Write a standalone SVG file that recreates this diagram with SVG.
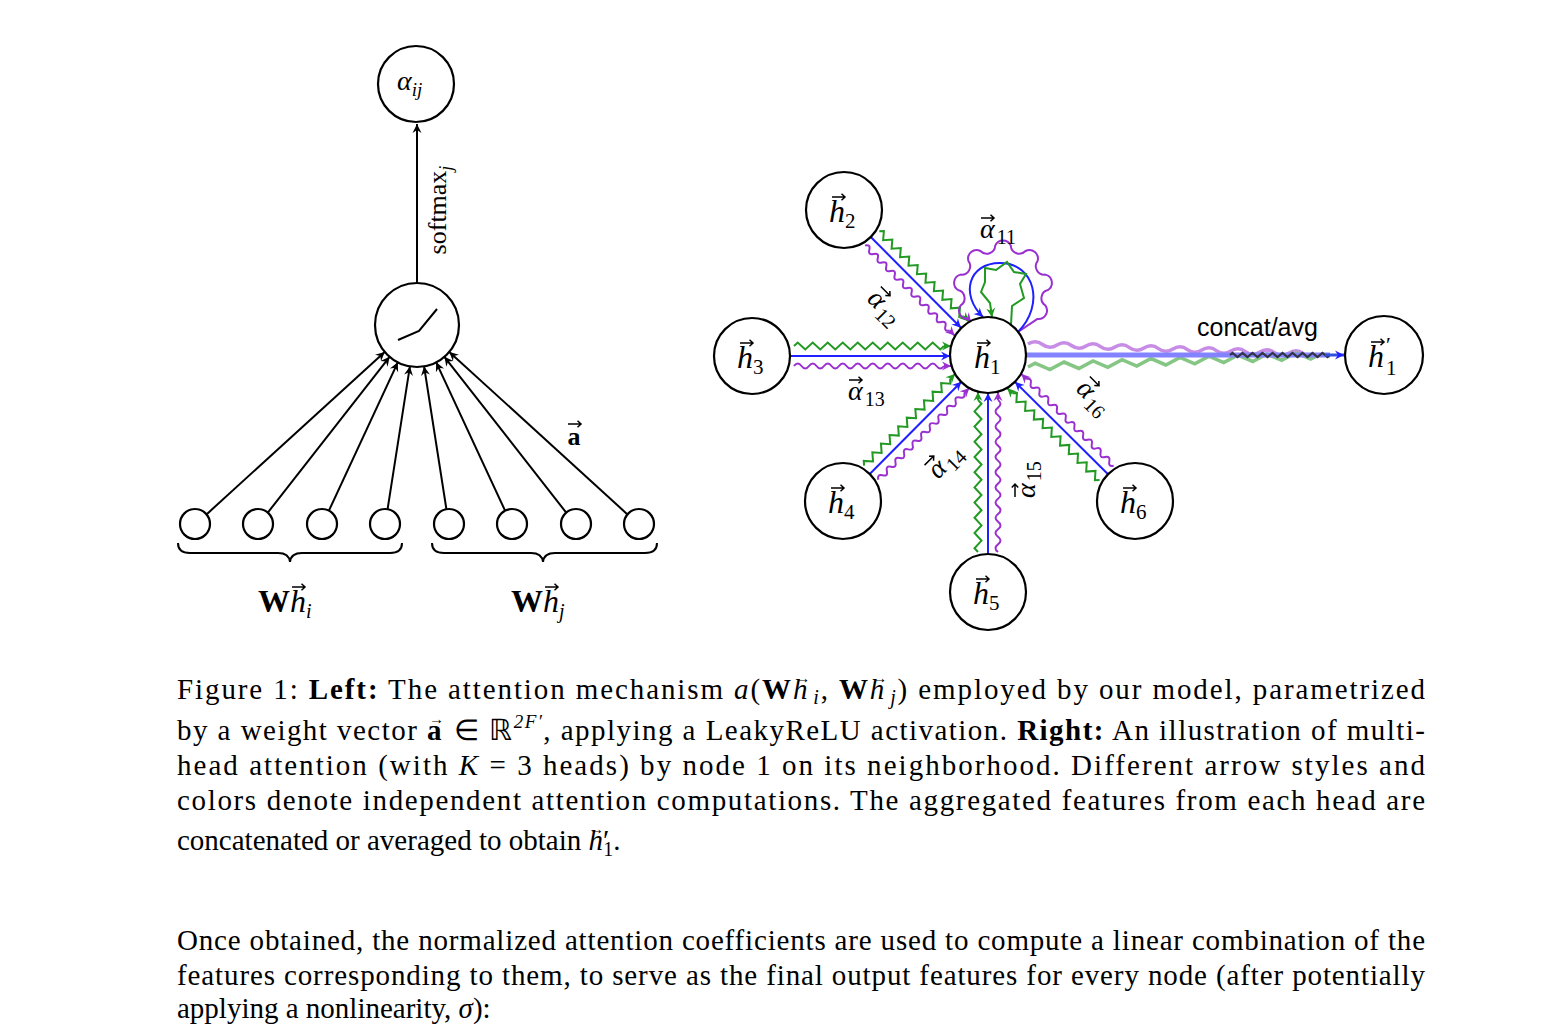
<svg xmlns="http://www.w3.org/2000/svg" width="1562" height="1030" viewBox="0 0 1562 1030">
<style>
.n{fill:#fff;stroke:#000;stroke-width:2.2}
.k{stroke:#000;stroke-width:2;fill:none}
.b{stroke:#1f1fff;stroke-width:2;fill:none}
.g{stroke:#229922;stroke-width:2;fill:none}
.p{stroke:#9b30d0;stroke-width:2;fill:none}
.t{font-family:"Liberation Serif",serif;font-style:normal;fill:#000}
.m{font-family:"Liberation Serif",serif;font-style:italic;fill:#000}
</style>
<defs>
<marker id="mk" markerWidth="12" markerHeight="12" refX="0" refY="0" viewBox="-10 -6 12 12" orient="auto" markerUnits="userSpaceOnUse"><path d="M0,0 L-9,-4.5 L-6,0 L-9,4.5z" fill="#000"/></marker>
<marker id="mb" markerWidth="12" markerHeight="12" refX="0" refY="0" viewBox="-10 -6 12 12" orient="auto" markerUnits="userSpaceOnUse"><path d="M0,0 L-9,-4.5 L-6,0 L-9,4.5z" fill="#1f1fff"/></marker>
<marker id="mg" markerWidth="12" markerHeight="12" refX="0" refY="0" viewBox="-10 -6 12 12" orient="auto" markerUnits="userSpaceOnUse"><path d="M0,0 L-9,-4.5 L-6,0 L-9,4.5z" fill="#229922"/></marker>
<marker id="mp" markerWidth="12" markerHeight="12" refX="0" refY="0" viewBox="-10 -6 12 12" orient="auto" markerUnits="userSpaceOnUse"><path d="M0,0 L-9,-4.5 L-6,0 L-9,4.5z" fill="#9b30d0"/></marker>
<path id="zig" vector-effect="non-scaling-stroke" d="M0,0 l2.5,-3.5 l5,7 l5,-7 l5,7 l5,-7 l5,7 l5,-7 l5,7 l5,-7 l5,7 l5,-7 l5,7 l5,-7 l5,7 l5,-7 l5,7 l5,-7 l5,7 l5,-7 l5,7 l2.5,-3.5"/>
<path id="snk" vector-effect="non-scaling-stroke" d="M0,0 q2.5,-5 5,0 t5,0 t5,0 t5,0 t5,0 t5,0 t5,0 t5,0 t5,0 t5,0 t5,0 t5,0 t5,0 t5,0 t5,0 t5,0 t5,0 t5,0 t5,0 t5,0"/>
<path id="va" d="M0,0 h13 M9.5,-3.2 L13,0 L9.5,3.2" stroke="#000" stroke-width="1.5" fill="none"/>
</defs>

<g id="connectors">
<line class="k" x1="206.5" y1="514.4" x2="384.7" y2="351.9" marker-end="url(#mk)"/>
<line class="k" x1="267.8" y1="512.6" x2="389.6" y2="356.8" marker-end="url(#mk)"/>
<line class="k" x1="328.9" y1="510.7" x2="397.8" y2="362.3" marker-end="url(#mk)"/>
<line class="k" x1="387.6" y1="509.2" x2="409.9" y2="366.4" marker-end="url(#mk)"/>
<line class="k" x1="446.4" y1="509.2" x2="424.1" y2="366.4" marker-end="url(#mk)"/>
<line class="k" x1="505.1" y1="510.7" x2="436.2" y2="362.3" marker-end="url(#mk)"/>
<line class="k" x1="566.2" y1="512.6" x2="444.4" y2="356.8" marker-end="url(#mk)"/>
<line class="k" x1="627.5" y1="514.4" x2="449.3" y2="351.9" marker-end="url(#mk)"/>
<line class="k" x1="417" y1="283" x2="417" y2="124" marker-end="url(#mk)"/>
<path class="k" d="M178,543 q0,10 12,10 L278,553 q11,0 12,9 q1,-9 12,-9 L390,553 q12,0 12,-10"/>
<path class="k" d="M432,543 q0,10 12,10 L531,553 q11,0 12,9 q1,-9 12,-9 L645,553 q12,0 12,-10"/>

<g transform="translate(752,356)">
<use href="#zig" class="g" transform="translate(42,-10) scale(1.5,1)"/><line class="g" x1="192" y1="-10" x2="199" y2="-10" marker-end="url(#mg)"/>
<line class="b" x1="38" y1="0" x2="198" y2="0" marker-end="url(#mb)"/>
<use href="#snk" class="p" transform="translate(42,10) scale(1.5,1)"/><line class="p" x1="192" y1="10" x2="199" y2="10" marker-end="url(#mp)"/>
</g>
<g transform="translate(844,210) rotate(45.2)">
<use href="#zig" class="g" transform="translate(40,-10) scale(1.2,1)"/><line class="g" x1="160" y1="-10" x2="167" y2="-10" marker-end="url(#mg)"/>
<line class="b" x1="38" y1="0" x2="166" y2="0" marker-end="url(#mb)"/>
<use href="#snk" class="p" transform="translate(40,10) scale(1.2,1)"/><line class="p" x1="160" y1="10" x2="167" y2="10" marker-end="url(#mp)"/>
</g>
<g transform="translate(843,501) rotate(-45.2)">
<use href="#zig" class="g" transform="translate(40,-10) scale(1.22,1)"/><line class="g" x1="162" y1="-10" x2="169" y2="-10" marker-end="url(#mg)"/>
<line class="b" x1="38" y1="0" x2="168" y2="0" marker-end="url(#mb)"/>
<use href="#snk" class="p" transform="translate(40,10) scale(1.22,1)"/><line class="p" x1="162" y1="10" x2="169" y2="10" marker-end="url(#mp)"/>
</g>
<g transform="translate(988,592) rotate(-90)">
<use href="#zig" class="g" transform="translate(40,-10) scale(1.52,1)"/><line class="g" x1="192" y1="-10" x2="200" y2="-10" marker-end="url(#mg)"/>
<line class="b" x1="38" y1="0" x2="199" y2="0" marker-end="url(#mb)"/>
<use href="#snk" class="p" transform="translate(40,10) scale(1.52,1)"/><line class="p" x1="192" y1="10" x2="200" y2="10" marker-end="url(#mp)"/>
</g>
<g transform="translate(1135,501) rotate(-135.2)">
<use href="#zig" class="g" transform="translate(40,-10) scale(1.23,1)"/><line class="g" x1="163" y1="-10" x2="170" y2="-10" marker-end="url(#mg)"/>
<line class="b" x1="38" y1="0" x2="169" y2="0" marker-end="url(#mb)"/>
<use href="#snk" class="p" transform="translate(40,10) scale(1.23,1)"/><line class="p" x1="163" y1="10" x2="170" y2="10" marker-end="url(#mp)"/>
</g>
<path class="p" marker-end="url(#mp)" d="M1018,332 L1037.5,318.9 A8.5,8.5 0 0 0 1045.3,305.4 A8.5,8.5 0 0 1 1048,290 A8.5,8.5 0 0 0 1045.3,274.6 A8.5,8.5 0 0 1 1037.5,261.1 A8.5,8.5 0 0 0 1025.5,251 A8.5,8.5 0 0 1 1010.8,245.7 A8.5,8.5 0 0 0 995.2,245.7 A8.5,8.5 0 0 1 980.5,251 A8.5,8.5 0 0 0 968.5,261.1 A8.5,8.5 0 0 1 960.7,274.6 A8.5,8.5 0 0 0 958,290 A8.5,8.5 0 0 1 960.7,305.4 A8.5,8.5 0 0 0 968.5,318.9 L971,322"/>
<path class="b" marker-end="url(#mb)" d="M1018,332 C1045,305 1035,263 1000,263 C968,263 960,295 983,317"/>
<path class="g" marker-end="url(#mg)" d="M1011,325 L1012,306 L1024,298 L1020,284 L1026,274 L1014,272 L1007,262 L996,270 L985,268 L985,282 L981,292 L990,303 L992,317"/>
<g opacity="0.55">
<g transform="translate(1028,344) rotate(2)"><use href="#snk" class="p" style="stroke-width:3.5" transform="scale(2.9,1)"/></g>
<g transform="translate(1028,367) rotate(-2.3)"><use href="#zig" class="g" style="stroke-width:3.5" transform="scale(2.9,1)"/></g>
<line x1="1026" y1="355" x2="1330" y2="355" stroke="#1f1fff" stroke-width="5"/>
</g>
<use href="#zig" transform="translate(1230,355) scale(1,0.6)" style="stroke:#334;stroke-width:2;fill:none"/>
<line x1="1325" y1="355" x2="1344" y2="355" stroke="#3050e0" stroke-width="3" marker-end="url(#mb)"/>
</g>

<g id="alpha"><circle class="n" cx="416" cy="84" r="38"/><text class="m" x="397" y="90" font-size="28">α<tspan font-size="19" dy="6">ij</tspan></text></g>
<g id="neuron"><circle class="n" cx="417" cy="325" r="42"/><path class="k" d="M398,340 L419,331 L437,309"/></g>
<text class="t" x="446" y="210" font-size="26" text-anchor="middle" transform="rotate(-90 446 210)">softmax<tspan class="m" font-size="18" dy="6">j</tspan></text>
<g id="inputs">
<circle class="n" cx="195" cy="524" r="15"/><circle class="n" cx="258" cy="524" r="15"/><circle class="n" cx="322" cy="524" r="15"/><circle class="n" cx="385" cy="524" r="15"/>
<circle class="n" cx="449" cy="524" r="15"/><circle class="n" cx="512" cy="524" r="15"/><circle class="n" cx="576" cy="524" r="15"/><circle class="n" cx="639" cy="524" r="15"/>
</g>
<text class="t" x="574" y="445" font-size="26" font-weight="bold" text-anchor="middle">a</text><use href="#va" x="568" y="424"/>
<text class="t" x="258" y="612" font-size="32"><tspan font-weight="bold">W</tspan><tspan class="m">h</tspan><tspan class="m" font-size="20" dy="6">i</tspan></text><use href="#va" x="292" y="587"/>
<text class="t" x="511" y="612" font-size="32"><tspan font-weight="bold">W</tspan><tspan class="m">h</tspan><tspan class="m" font-size="20" dy="6">j</tspan></text><use href="#va" x="545" y="587"/>

<g id="h1"><circle class="n" cx="988" cy="355" r="38"/><text class="m" x="974" y="368" font-size="32">h<tspan class="t" font-size="21" dy="6">1</tspan></text><use href="#va" x="977" y="343"/></g>
<g id="h2"><circle class="n" cx="844" cy="210" r="38"/><text class="m" x="829" y="222" font-size="32">h<tspan class="t" font-size="21" dy="6">2</tspan></text><use href="#va" x="832" y="197"/></g>
<g id="h3"><circle class="n" cx="752" cy="356" r="38"/><text class="m" x="737" y="368" font-size="32">h<tspan class="t" font-size="21" dy="6">3</tspan></text><use href="#va" x="740" y="343"/></g>
<g id="h4"><circle class="n" cx="843" cy="501" r="38"/><text class="m" x="828" y="513" font-size="32">h<tspan class="t" font-size="21" dy="6">4</tspan></text><use href="#va" x="831" y="488"/></g>
<g id="h5"><circle class="n" cx="988" cy="592" r="38"/><text class="m" x="973" y="604" font-size="32">h<tspan class="t" font-size="21" dy="6">5</tspan></text><use href="#va" x="976" y="579"/></g>
<g id="h6"><circle class="n" cx="1135" cy="501" r="38"/><text class="m" x="1120" y="513" font-size="32">h<tspan class="t" font-size="21" dy="6">6</tspan></text><use href="#va" x="1123" y="488"/></g>
<g id="h1p"><circle class="n" cx="1384" cy="355" r="39"/><text class="m" x="1368" y="367" font-size="32">h</text><text class="t" x="1386" y="352" font-size="22">′</text><text class="t" x="1386" y="375" font-size="21">1</text><use href="#va" x="1371" y="342"/></g>

<g class="alabels">
<text class="m" x="980" y="238" font-size="28">α<tspan class="t" font-size="20" dx="2" dy="6">11</tspan></text><use href="#va" x="981" y="218"/>
<g transform="translate(866,300) rotate(45)"><text class="m" x="0" y="0" font-size="28">α<tspan class="t" font-size="20" dx="2" dy="6">12</tspan></text><use href="#va" x="1" y="-20"/></g>
<text class="m" x="848" y="400" font-size="28">α<tspan class="t" font-size="20" dx="2" dy="6">13</tspan></text><use href="#va" x="849" y="380"/>
<g transform="translate(938,480) rotate(-45)"><text class="m" x="0" y="0" font-size="28">α<tspan class="t" font-size="20" dx="2" dy="6">14</tspan></text><use href="#va" x="1" y="-20"/></g>
<g transform="translate(1035,498) rotate(-90)"><text class="m" x="0" y="0" font-size="28">α<tspan class="t" font-size="20" dx="2" dy="6">15</tspan></text><use href="#va" x="1" y="-20"/></g>
<g transform="translate(1075,390) rotate(45)"><text class="m" x="0" y="0" font-size="28">α<tspan class="t" font-size="20" dx="2" dy="6">16</tspan></text><use href="#va" x="1" y="-20"/></g>
</g>
<text x="1197" y="336" font-size="25" font-family="Liberation Sans,sans-serif">concat/avg</text>

<g class="t" font-size="29">
<text x="177" y="699" textLength="1248" lengthAdjust="spacing">Figure 1: <tspan font-weight="bold">Left:</tspan> The attention mechanism <tspan font-style="italic">a</tspan>(<tspan font-weight="bold">W</tspan><tspan font-style="italic">h</tspan><tspan font-size="15" dx="-14" dy="-16">→</tspan><tspan font-style="italic" font-size="20" dx="1" dy="21">i</tspan><tspan dy="-5">, </tspan><tspan font-weight="bold">W</tspan><tspan font-style="italic">h</tspan><tspan font-size="15" dx="-14" dy="-16">→</tspan><tspan font-style="italic" font-size="20" dx="1" dy="21">j</tspan><tspan dy="-5">) employed by our model, parametrized</tspan></text>
<text x="177" y="740" textLength="1248" lengthAdjust="spacing">by a weight vector <tspan font-weight="bold">a</tspan><tspan font-size="15" dx="-14" dy="-16">→</tspan><tspan dy="16"> ∈ ℝ</tspan><tspan font-size="19" dy="-12" font-style="italic">2F′</tspan><tspan dy="12">, applying a LeakyReLU activation. </tspan><tspan font-weight="bold">Right:</tspan> An illustration of multi-</text>
<text x="177" y="775" textLength="1248" lengthAdjust="spacing">head attention (with <tspan font-style="italic">K</tspan> = 3 heads) by node 1 on its neighborhood. Different arrow styles and</text>
<text x="177" y="810" textLength="1248" lengthAdjust="spacing">colors denote independent attention computations. The aggregated features from each head are</text>
<text x="177" y="850">concatenated or averaged to obtain <tspan font-style="italic">h</tspan><tspan font-size="15" dx="-14" dy="-16">→</tspan><tspan dx="-1" dy="16">′</tspan><tspan font-size="20" dx="-6" dy="6">1</tspan><tspan dy="-6">.</tspan></text>
<text x="177" y="950" textLength="1248" lengthAdjust="spacing">Once obtained, the normalized attention coefficients are used to compute a linear combination of the</text>
<text x="177" y="985" textLength="1248" lengthAdjust="spacing">features corresponding to them, to serve as the final output features for every node (after potentially</text>
<text x="177" y="1018">applying a nonlinearity, <tspan font-style="italic">σ</tspan>):</text>
</g>
</svg>
